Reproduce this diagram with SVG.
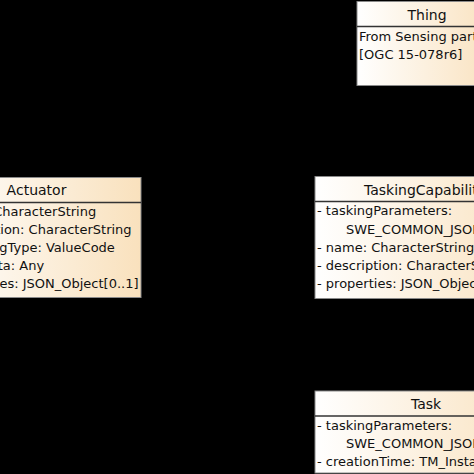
<svg xmlns="http://www.w3.org/2000/svg" width="474" height="474" viewBox="0 0 474 474">
<defs>
<linearGradient id="g" x1="0" y1="0" x2="1" y2="0">
<stop offset="0" stop-color="#ffffff"/>
<stop offset="1" stop-color="#f9e1bd"/>
</linearGradient>
<style>
.box{fill:url(#g);stroke:#8a8a8a;stroke-width:1}
.div{stroke:#333333;stroke-width:1.5}
.t{font-family:"DejaVu Sans",sans-serif;font-size:14px;fill:#111111;text-anchor:middle}
.a{font-family:"DejaVu Sans",sans-serif;font-size:13px;fill:#111111}
</style>
</defs>
<rect x="0" y="0" width="474" height="474" fill="#000000"/>
<g id="connectors"/>
<g id="thing">
<rect class="box" x="357" y="1.5" width="140" height="84"/>
<line class="div" x1="357" y1="26.5" x2="497" y2="26.5"/>
<text class="t" x="427" y="20">Thing</text>
<text class="a" x="359" y="41">From Sensing part</text>
<text class="a" x="359" y="59">[OGC 15-078r6]</text>
</g>
<g id="actuator">
<rect class="box" x="-64" y="177.5" width="205" height="120"/>
<line class="div" x1="-64" y1="202.5" x2="141" y2="202.5"/>
<text class="t" x="36.5" y="195">Actuator</text>
<text class="a" x="-61" y="216">- name: CharacterString</text>
<text class="a" x="-61" y="234">- description: CharacterString</text>
<text class="a" x="-61" y="252">- encodingType: ValueCode</text>
<text class="a" x="-61" y="270">- metadata: Any</text>
<text class="a" x="-61" y="288">- properties: JSON_Object[0..1]</text>
</g>
<g id="taskingcapability">
<rect class="box" x="315" y="176.5" width="221" height="122"/>
<line class="div" x1="315" y1="201.5" x2="536" y2="201.5"/>
<text class="t" x="425" y="195">TaskingCapability</text>
<text class="a" x="317" y="215">- taskingParameters:</text>
<text class="a" x="346" y="234">SWE_COMMON_JSON</text>
<text class="a" x="317" y="252">- name: CharacterString</text>
<text class="a" x="317" y="270">- description: CharacterString</text>
<text class="a" x="317" y="288">- properties: JSON_Object[0..1]</text>
</g>
<g id="task">
<rect class="box" x="315" y="391" width="221" height="82"/>
<line class="div" x1="315" y1="416" x2="536" y2="416"/>
<text class="t" x="426" y="409">Task</text>
<text class="a" x="317" y="430">- taskingParameters:</text>
<text class="a" x="346" y="448">SWE_COMMON_JSON</text>
<text class="a" x="317" y="466">- creationTime: TM_Instant</text>
</g>
</svg>
